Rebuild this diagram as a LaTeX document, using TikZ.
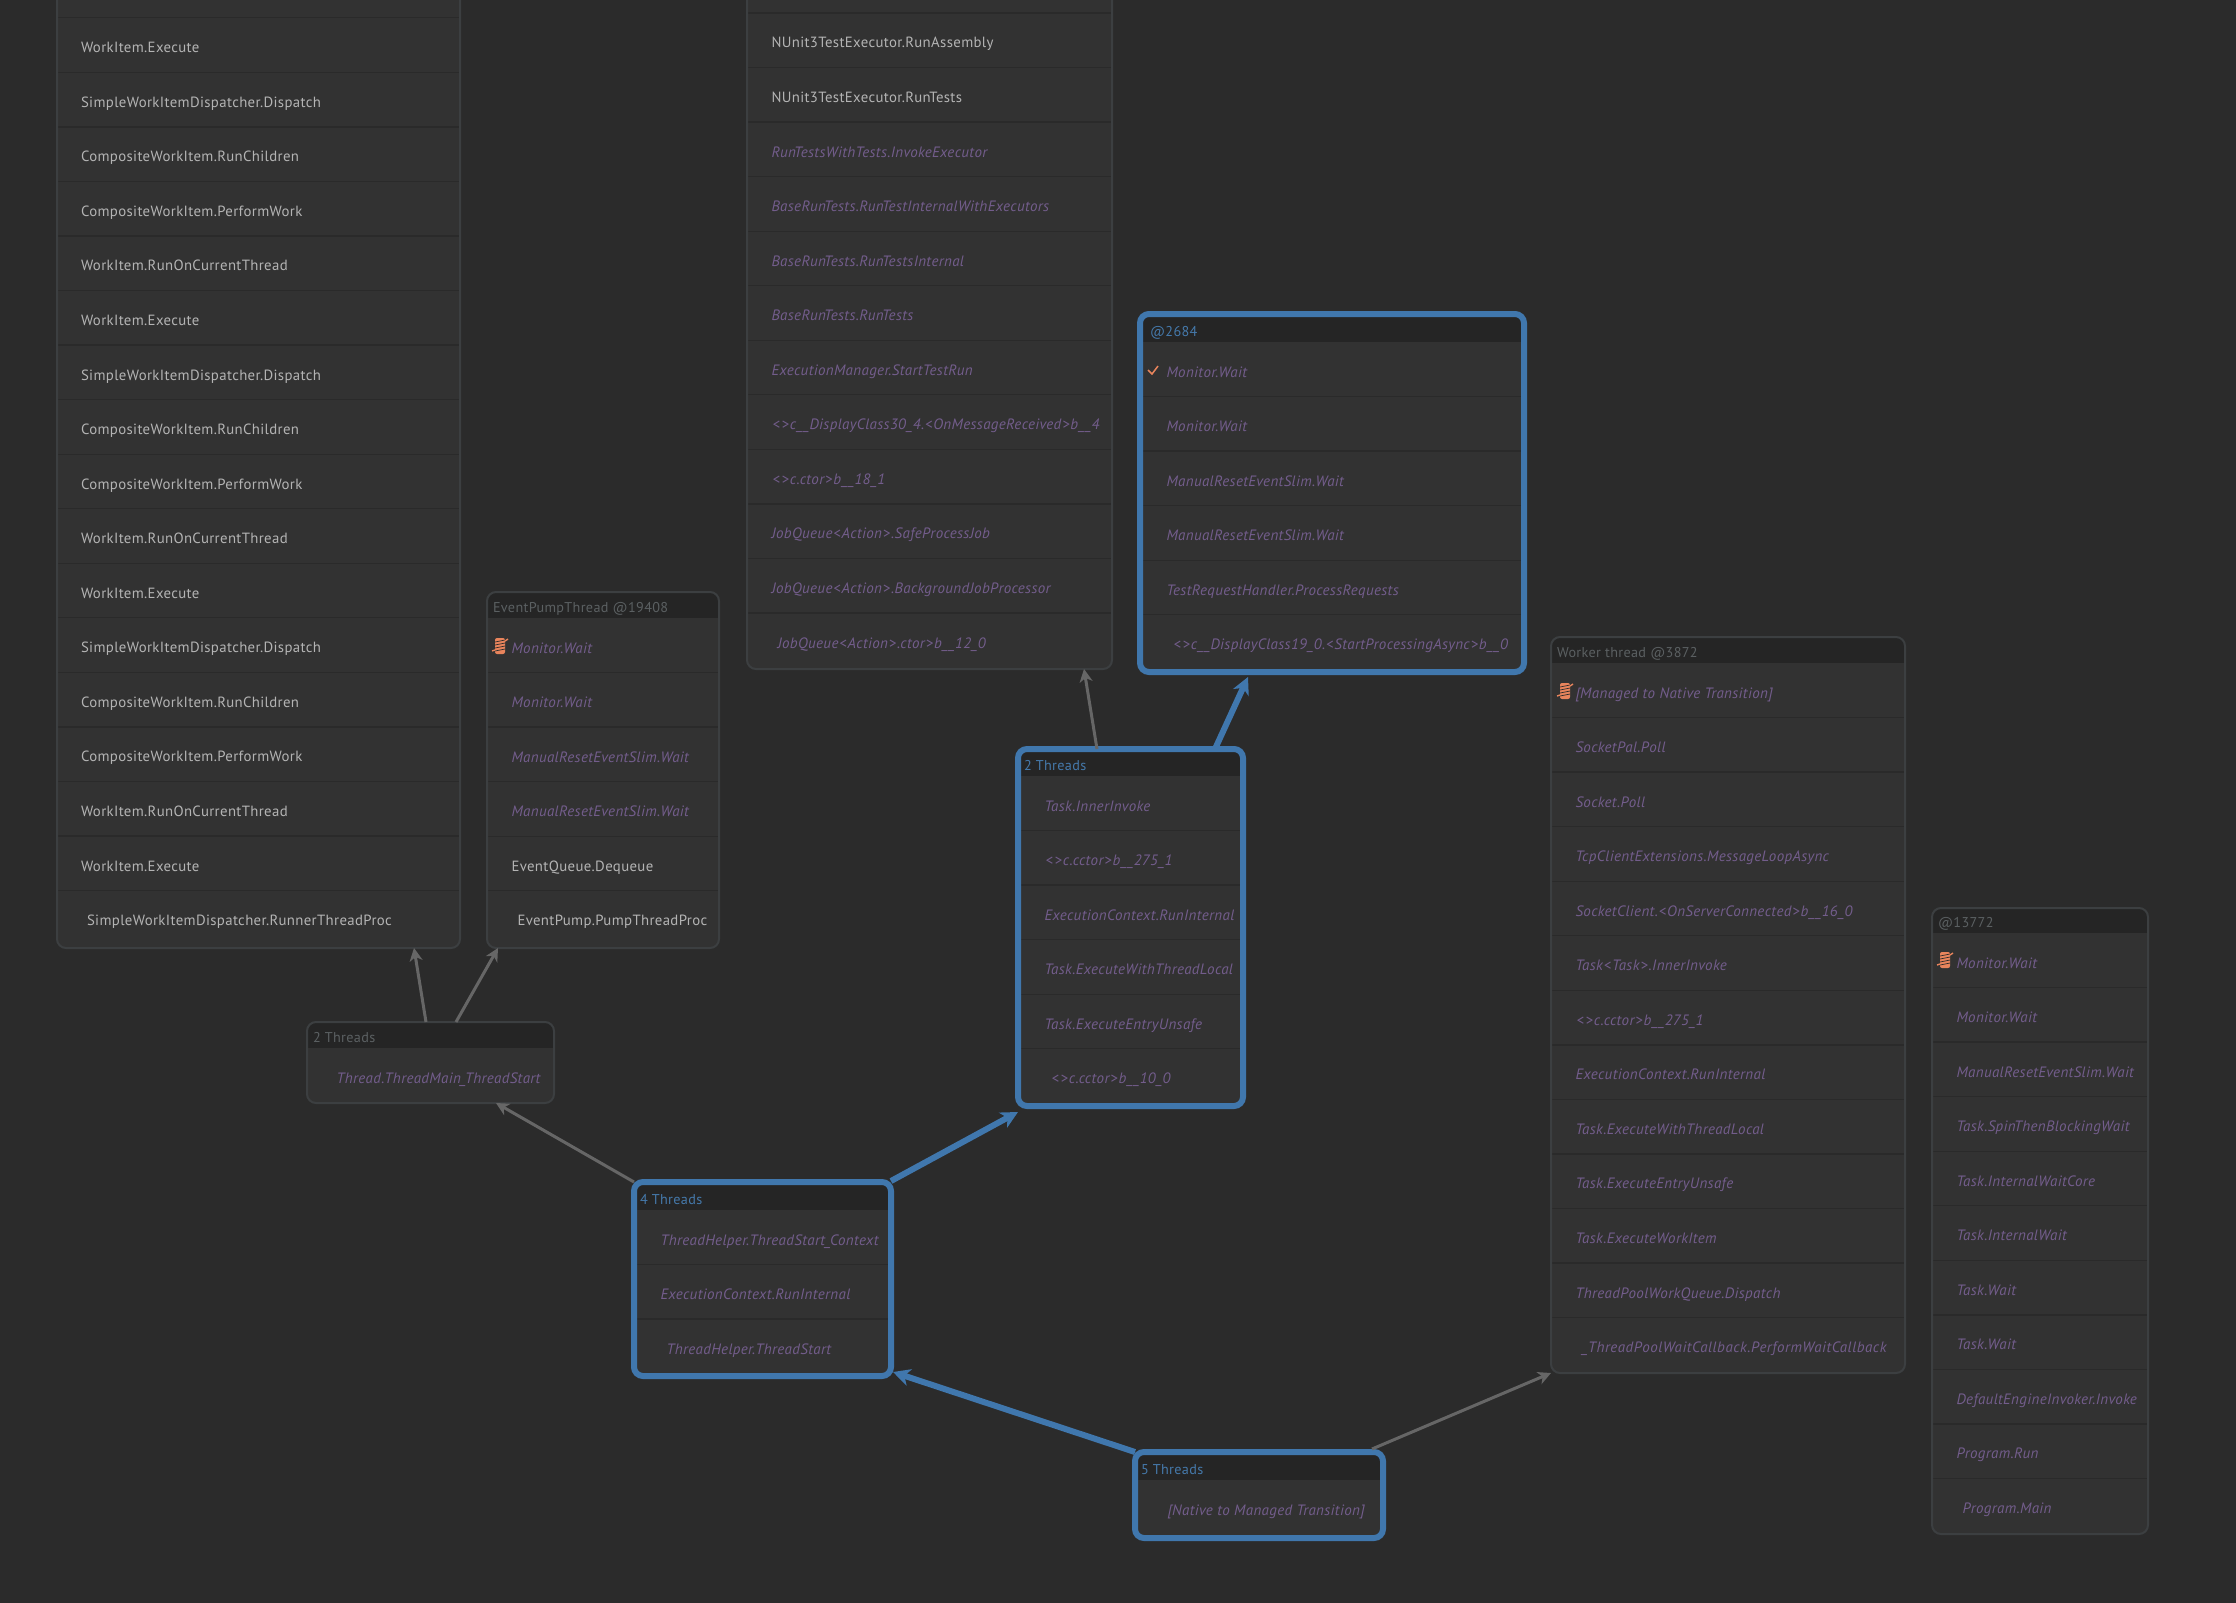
\documentclass[tikz,border=0pt]{standalone}
\usepackage{fontspec}
\setmainfont{PT Sans}[LetterSpace=2.4]
\usetikzlibrary{arrows.meta}
\definecolor{bgc}{HTML}{2B2B2B}
\definecolor{panelc}{HTML}{323232}
\definecolor{headc}{HTML}{252525}
\definecolor{sepc}{HTML}{2A2A2A}
\definecolor{greyb}{HTML}{3C3F41}
\definecolor{blueb}{HTML}{4077AD}
\definecolor{edgec}{HTML}{666666}
\definecolor{purp}{HTML}{735D8C}
\definecolor{normc}{HTML}{B4B4B4}
\definecolor{greyt}{HTML}{5B6062}
\definecolor{bluet}{HTML}{4579AB}
\definecolor{orng}{HTML}{E8845C}
\tikzset{
  x=1pt,y=-1pt,
  every node/.style={inner sep=0,outer sep=0},
  greypanel/.style={draw=greyb,line width=2pt,rounded corners=9pt},
  bluepanel/.style={draw=blueb,line width=6pt,rounded corners=9pt},
  rowtext/.style={anchor=base west,font=\fontsize{15}{17}\selectfont},
  titletext/.style={anchor=base west,font=\fontsize{14.2}{16}\selectfont},
  titlegreypanel/.style={text=greyt},
  titlebluepanel/.style={text=bluet},
  greyedge/.style={draw=edgec,line width=3pt,-{Stealth[length=13pt,width=13pt,inset=4pt]}},
  blueedge/.style={draw=blueb,line width=6pt,-{Stealth[length=17pt,width=17pt,inset=5pt]}},
}
\newcommand\N[1]{\textcolor{normc}{\fontsize{14.8}{17}\selectfont #1}}
\newcommand\I[1]{\textcolor{purp}{\itshape #1}}
\newcommand\NL[1]{\hspace*{6pt}\N{#1}}
\newcommand\IL[1]{\hspace*{6pt}\I{#1}}
\newcommand\Lt{\kern1pt<\kern1pt}
\newcommand\Gt{\kern1pt>\kern1pt}
\def\rowoff{24}
% name, left, top, right, bottom, header bottom, style, title, rows
\newcommand\panel[9]{%
  \begin{scope}
    \clip[rounded corners=9pt] (#2,#3) rectangle (#4,#5);
    \fill[panelc] (#2,#3) rectangle (#4,#5);
    \fill[headc] (#2,#3) rectangle (#4,#6);
    \foreach \rowitem [count=\ri from 0] in {#9}{%
      \ifnum\ri>0 \draw[sepc,line width=1.3pt] (#2,{#6+54.55*\ri}) -- (#4,{#6+54.55*\ri});\fi
      \node[rowtext] (#1r\ri) at ({#2+\rowoff},{#6+35+54.55*\ri}) {\rowitem};
    }
  \end{scope}
  \node[#7,minimum width={(#4-#2)*1pt},minimum height={(#5-#3)*1pt}] (#1) at ({(#2+#4)/2},{(#3+#5)/2}) {};
  \node[titletext,title#7] (#1t) at ({#2+6},{#6-6}) {#8};
}
\newcommand\spool[2]{%
  \begin{scope}[shift={(#1,#2)}]
    \fill[orng,rounded corners=2pt] (-5,-8) rectangle (5,8);
    \draw[bgc,line width=.7pt] (-5,-4) -- (5,-6) (-5,-1) -- (5,-3) (-5,2) -- (5,0) (-5,5) -- (5,3);
    \draw[orng,line width=1.4pt] (-5,4) -- (-8,5) (5,-5) -- (8,-7);
  \end{scope}}
\begin{document}
\begin{tikzpicture}
\useasboundingbox (0,0) rectangle (2236,1603);
\fill[bgc] (0,0) rectangle (2236,1603);
\clip (0,0) rectangle (2236,1603);

\panel{bA}{57}{-64}{460}{948}{-36.8}{greypanel}{}{\N{},\N{WorkItem.Execute},\N{SimpleWorkItemDispatcher.Dispatch},\N{CompositeWorkItem.RunChildren},\N{CompositeWorkItem.PerformWork},\N{WorkItem.RunOnCurrentThread},\N{WorkItem.Execute},\N{SimpleWorkItemDispatcher.Dispatch},\N{CompositeWorkItem.RunChildren},\N{CompositeWorkItem.PerformWork},\N{WorkItem.RunOnCurrentThread},\N{WorkItem.Execute},\N{SimpleWorkItemDispatcher.Dispatch},\N{CompositeWorkItem.RunChildren},\N{CompositeWorkItem.PerformWork},\N{WorkItem.RunOnCurrentThread},\N{WorkItem.Execute},\NL{SimpleWorkItemDispatcher.RunnerThreadProc}}

\def\rowoff{24.5}
\panel{bB}{487}{592}{719}{948}{618}{greypanel}{EventPumpThread @19408}{\I{Monitor.Wait},\I{Monitor.Wait},\I{ManualResetEventSlim.Wait},\I{ManualResetEventSlim.Wait},\N{EventQueue.Dequeue},\NL{EventPump.PumpThreadProc}}

\panel{bC}{747}{-68}{1112}{669}{-41.6}{greypanel}{}{\N{},\N{NUnit3TestExecutor.RunAssembly},\N{NUnit3TestExecutor.RunTests},\I{RunTestsWithTests.InvokeExecutor},\I{BaseRunTests.RunTestInternalWithExecutors},\I{BaseRunTests.RunTestsInternal},\I{BaseRunTests.RunTests},\I{ExecutionManager.StartTestRun},\I{\Lt\Gt c\_\_DisplayClass30\_4.\Lt OnMessageReceived\Gt b\_\_4},\I{\Lt\Gt c.ctor\Gt b\_\_18\_1},\I{JobQueue\Lt Action\Gt.SafeProcessJob},\I{JobQueue\Lt Action\Gt.BackgroundJobProcessor},\IL{JobQueue\Lt Action\Gt.ctor\Gt b\_\_12\_0}}

\def\rowoff{26.5}
\panel{bD}{1140}{314}{1524}{672}{342}{bluepanel}{\hspace*{4pt}@2684}{\I{Monitor.Wait},\I{Monitor.Wait},\I{ManualResetEventSlim.Wait},\I{ManualResetEventSlim.Wait},\I{TestRequestHandler.ProcessRequests},\IL{\Lt\Gt c\_\_DisplayClass19\_0.\Lt StartProcessingAsync\Gt b\_\_0}}

\panel{bE}{1018}{749}{1243}{1106}{776}{bluepanel}{2 Threads}{\I{Task.InnerInvoke},\I{\Lt\Gt c.cctor\Gt b\_\_275\_1},\I{ExecutionContext.RunInternal},\I{Task.ExecuteWithThreadLocal},\I{Task.ExecuteEntryUnsafe},\IL{\Lt\Gt c.cctor\Gt b\_\_10\_0}}

\panel{bF}{634}{1182}{891}{1376}{1210}{bluepanel}{4 Threads}{\I{ThreadHelper.ThreadStart\kern-.5pt\_\kern-.5pt Context},\I{ExecutionContext.RunInternal},\IL{ThreadHelper.ThreadStart}}

\panel{bG}{1135}{1452}{1383}{1538}{1480}{bluepanel}{5 Threads}{\IL{[Native to Managed Transition]}}

\def\rowoff{24.5}
\panel{bH}{307}{1022}{554}{1103}{1048}{greypanel}{2 Threads}{\hspace*{5pt}\I{Thread.ThreadMain\kern-1pt\_\kern-1pt ThreadStart}}

\panel{bI}{1551}{637}{1905}{1373}{663}{greypanel}{Worker thread @3872}{\I{[Managed to Native Transition]},\I{SocketPal.Poll},\I{Socket.Poll},\I{TcpClientExtensions.MessageLoopAsync},\I{SocketClient.\Lt OnServerConnected\Gt b\_\_16\_0},\I{Task\Lt Task\Gt.InnerInvoke},\I{\Lt\Gt c.cctor\Gt b\_\_275\_1},\I{ExecutionContext.RunInternal},\I{Task.ExecuteWithThreadLocal},\I{Task.ExecuteEntryUnsafe},\I{Task.ExecuteWorkItem},\I{ThreadPoolWorkQueue.Dispatch},\IL{\addfontfeatures{LetterSpace=3.4}\_ThreadPoolWaitCallback.PerformWaitCallback}}

\panel{bJ}{1932}{908}{2148}{1534}{933}{greypanel}{@13772}{\I{Monitor.Wait},\I{Monitor.Wait},\I{ManualResetEventSlim.Wait},\I{Task.SpinThenBlockingWait},\I{Task.InternalWaitCore},\I{Task.InternalWait},\I{Task.Wait},\I{Task.Wait},\I{DefaultEngineInvoker.Invoke},\I{Program.Run},\IL{Program.Main}}

\spool{500}{646}
\spool{1565}{691}
\spool{1945}{960}
\draw[orng,line width=1.5pt] (1148,370) -- (1152,374) -- (1158,366);

\draw[greyedge] ([xshift=119pt]bH.north west) -- ([xshift=-46pt]bA.south east);
\draw[greyedge] ([xshift=149pt]bH.north west) -- ([xshift=11pt]bB.south west);
\draw[greyedge] (bF.north west) -- ([xshift=189pt]bH.south west);
\draw[blueedge] ([yshift=1pt]bF.north east) -- ([yshift=-6pt]bE.south west);
\draw[greyedge] ([xshift=79pt]bE.north west) -- ([xshift=-28pt]bC.south east);
\draw[blueedge] ([xshift=197pt]bE.north west) -- ([xshift=108pt,yshift=-5pt]bD.south west);
\draw[blueedge] (bG.north west) -- ([xshift=2pt,yshift=4pt]bF.south east);
\draw[greyedge] ([xshift=237pt,yshift=3pt]bG.north west) -- (bI.south west);
\end{tikzpicture}
\end{document}
